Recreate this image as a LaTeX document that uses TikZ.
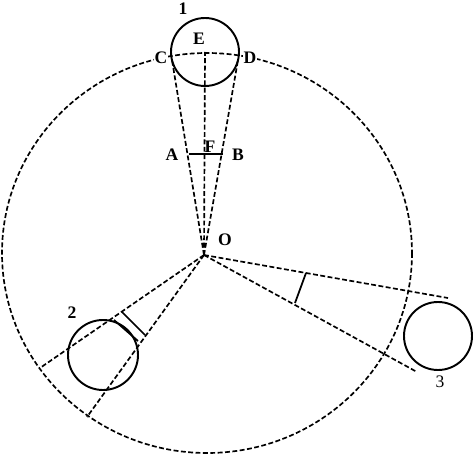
\documentclass[tikz,border=0pt]{standalone}
\usepackage{fontspec}
\setmainfont{Liberation Serif}
\begin{document}
\begin{tikzpicture}[x=0.02cm,y=-0.02cm]
\tikzset{rayon/.style={dash pattern=on 2.8pt off 1.4pt, line width=0.95pt},
planete/.style={line width=1.1pt},
trait/.style={line width=1pt},
lettre/.style={font=\fontsize{10}{12}\selectfont\bfseries, inner sep=0pt}}
\useasboundingbox (0,0) rectangle (474,456);
% centre et grand cercle
\coordinate (O) at (204,255);
\coordinate (M) at (207,253);
\draw[rayon] (M) ellipse [x radius=205, y radius=200];
% les trois cercles
\coordinate (P1) at (205,52);
\coordinate (P2) at (103,355);
\coordinate (P3) at (438,336);
\draw[planete] (P1) circle [radius=34];
\draw[planete] (P2) circle [radius=35];
\draw[planete] (P3) circle [radius=34];
% cone 1
\coordinate (C) at (172,60);
\coordinate (D) at (238,60);
\draw[rayon] (O) -- (C);
\draw[rayon] (O) -- (D);
\draw[rayon] (O) -- (P1);
\coordinate (A) at (188.5,154);
\coordinate (B) at (222.5,154);
\draw[trait] (A) -- (B);
% cone 2
\coordinate (T2a) at (40,368);
\coordinate (T2b) at (87,417);
\draw[rayon] (O) -- (T2a);
\draw[rayon] (O) -- (T2b);
\coordinate (S2a) at (122,312);
\coordinate (S2b) at (145,335);
\coordinate (S2c) at (114,320);
\coordinate (S2d) at (138,341);
\draw[trait] (S2a) -- (S2b);
\draw[trait] (S2c) -- (S2d);
% cone 3
\coordinate (T3a) at (448,298);
\coordinate (T3b) at (417,372);
\draw[rayon] (O) -- (T3a);
\draw[rayon] (O) -- (T3b);
\coordinate (S3a) at (306,273);
\coordinate (S3b) at (295,303);
\draw[trait] (S3a) -- (S3b);
% lettres
\node[lettre] (l1) at (183,9) {1};
\node[lettre] (lE) at (199,39) {E};
\node[lettre, fill=white, inner sep=0.6pt] (lC) at (161,58) {C};
\node[lettre, fill=white, inner sep=0.6pt] (lD) at (250,58) {D};
\node[lettre] (lA) at (172,155) {A};
\node[lettre] (lF) at (210,147) {F};
\node[lettre] (lB) at (238,155) {B};
\node[lettre] (lO) at (225,240) {O};
\node[lettre] (l2) at (72,313) {2};
\node[lettre, font=\fontsize{10}{12}\selectfont] (l3) at (440,382) {3};
\end{tikzpicture}
\end{document}
